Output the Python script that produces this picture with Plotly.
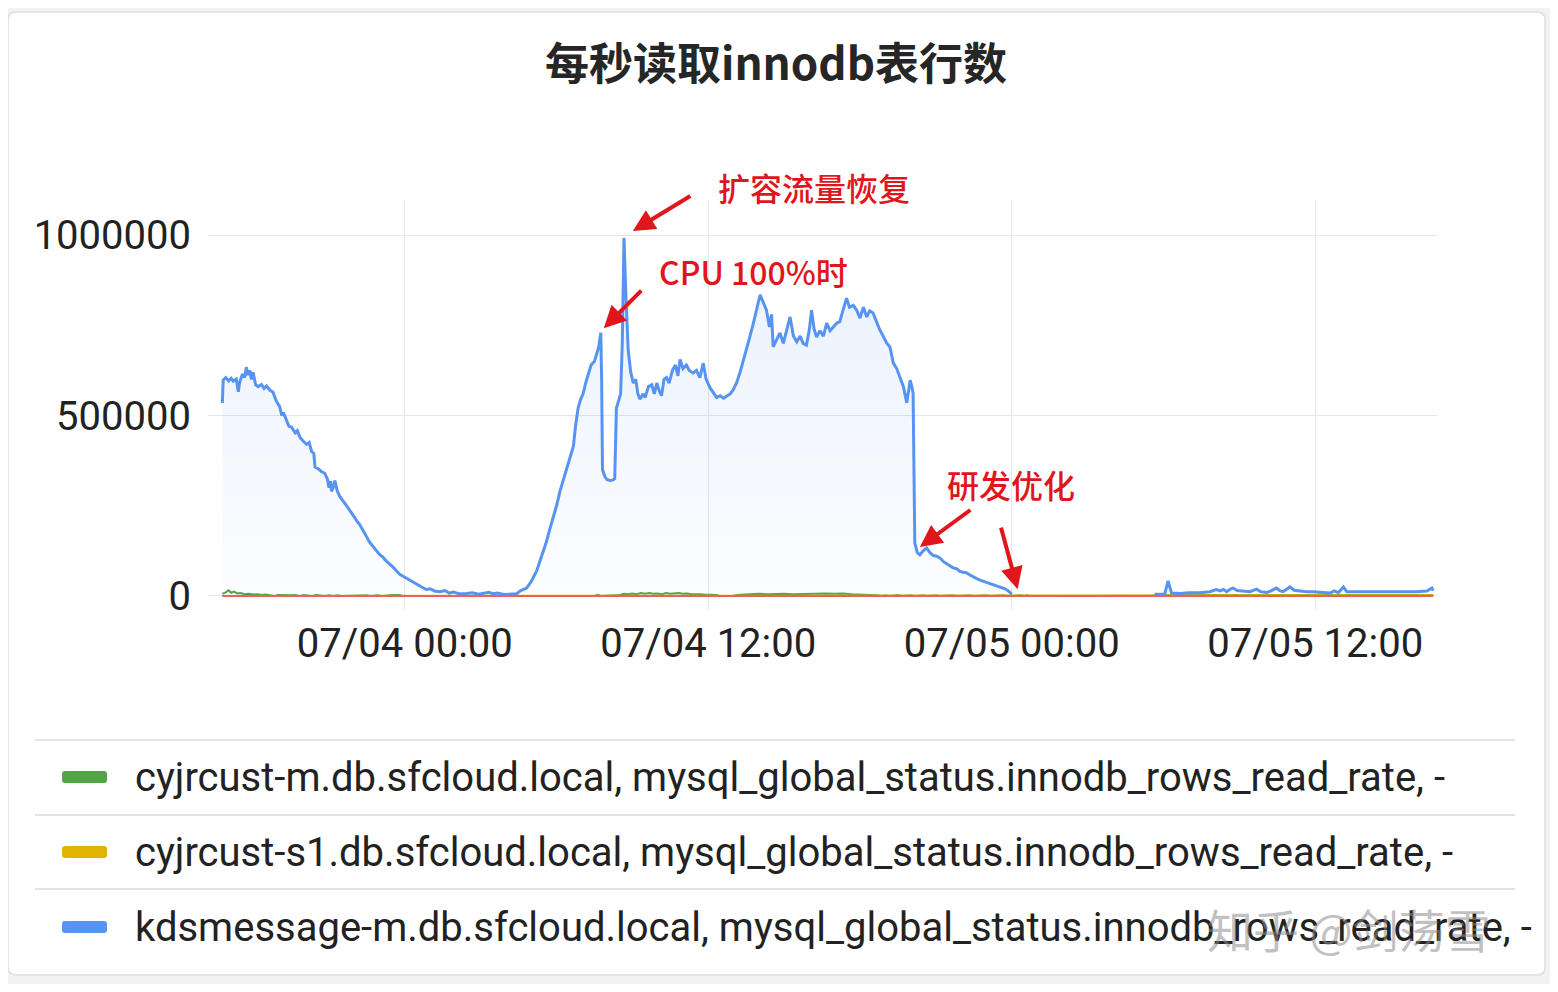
import plotly.graph_objects as go

YEAR = "2020"

# ---------------- data ----------------
blue_times = [
    "07-03 16:47", "07-03 16:49", "07-03 16:55", "07-03 17:02", "07-03 17:08", "07-03 17:13", "07-03 17:20",
    "07-03 17:25", "07-03 17:28", "07-03 17:35", "07-03 17:40", "07-03 17:44", "07-03 17:48", "07-03 17:52",
    "07-03 17:56", "07-03 18:00", "07-03 18:06", "07-03 18:12", "07-03 18:20", "07-03 18:26", "07-03 18:32",
    "07-03 18:40", "07-03 18:47", "07-03 18:55", "07-03 19:03", "07-03 19:08", "07-03 19:12", "07-03 19:19",
    "07-03 19:25", "07-03 19:31", "07-03 19:40", "07-03 19:45", "07-03 19:51", "07-03 19:58", "07-03 20:07",
    "07-03 20:13", "07-03 20:19", "07-03 20:24", "07-03 20:27", "07-03 20:35", "07-03 20:42", "07-03 20:50",
    "07-03 20:56", "07-03 21:00", "07-03 21:04", "07-03 21:06", "07-03 21:10", "07-03 21:14", "07-03 21:20",
    "07-03 21:26", "07-03 21:35", "07-03 21:42", "07-03 21:49", "07-03 21:56", "07-03 22:02", "07-03 22:08",
    "07-03 22:13", "07-03 22:20", "07-03 22:29", "07-03 22:36", "07-03 22:45", "07-03 22:53", "07-03 23:00",
    "07-03 23:08", "07-03 23:15", "07-03 23:25", "07-03 23:32", "07-03 23:40", "07-03 23:48",
    "07-04 00:00", "07-04 00:10", "07-04 00:20", "07-04 00:30", "07-04 00:40", "07-04 00:51", "07-04 01:00",
    "07-04 01:10", "07-04 01:23", "07-04 01:35", "07-04 01:45", "07-04 01:55", "07-04 02:10", "07-04 02:26",
    "07-04 02:40", "07-04 02:55", "07-04 03:10", "07-04 03:20", "07-04 03:29", "07-04 03:40", "07-04 03:55",
    "07-04 04:10", "07-04 04:25", "07-04 04:35", "07-04 04:49", "07-04 05:00", "07-04 05:13", "07-04 05:20",
    "07-04 05:28", "07-04 05:36", "07-04 05:44", "07-04 05:52", "07-04 06:00", "07-04 06:08", "07-04 06:16",
    "07-04 06:24", "07-04 06:32", "07-04 06:40", "07-04 06:45", "07-04 06:51", "07-04 06:57", "07-04 07:03",
    "07-04 07:09", "07-04 07:15", "07-04 07:22", "07-04 07:30", "07-04 07:35", "07-04 07:40", "07-04 07:45",
    "07-04 07:47", "07-04 07:49", "07-04 07:55", "07-04 08:00", "07-04 08:07", "07-04 08:13", "07-04 08:18",
    "07-04 08:22", "07-04 08:28", "07-04 08:32", "07-04 08:36", "07-04 08:40", "07-04 08:44", "07-04 08:50",
    "07-04 08:56", "07-04 09:02", "07-04 09:08", "07-04 09:13", "07-04 09:18", "07-04 09:25", "07-04 09:30",
    "07-04 09:38", "07-04 09:46", "07-04 09:52", "07-04 09:58", "07-04 10:03", "07-04 10:09", "07-04 10:15",
    "07-04 10:21", "07-04 10:27", "07-04 10:35", "07-04 10:42", "07-04 10:48", "07-04 10:53", "07-04 11:00",
    "07-04 11:08", "07-04 11:15", "07-04 11:24", "07-04 11:32", "07-04 11:40", "07-04 11:48", "07-04 11:55",
    "07-04 12:05", "07-04 12:12", "07-04 12:20", "07-04 12:28", "07-04 12:36", "07-04 12:45", "07-04 12:52",
    "07-04 12:59", "07-04 13:07", "07-04 13:15", "07-04 13:23", "07-04 13:31", "07-04 13:39", "07-04 13:47",
    "07-04 13:55", "07-04 14:03", "07-04 14:10", "07-04 14:18", "07-04 14:25", "07-04 14:30", "07-04 14:34",
    "07-04 14:42", "07-04 14:50", "07-04 14:58", "07-04 15:06", "07-04 15:14", "07-04 15:22", "07-04 15:30",
    "07-04 15:38", "07-04 15:45", "07-04 15:53", "07-04 16:00", "07-04 16:05", "07-04 16:11", "07-04 16:17",
    "07-04 16:25", "07-04 16:33", "07-04 16:41", "07-04 16:49", "07-04 16:57", "07-04 17:05", "07-04 17:12",
    "07-04 17:20", "07-04 17:28", "07-04 17:35", "07-04 17:44", "07-04 17:52", "07-04 18:00", "07-04 18:08",
    "07-04 18:16", "07-04 18:23", "07-04 18:31", "07-04 18:39", "07-04 18:47", "07-04 18:55", "07-04 19:03",
    "07-04 19:11", "07-04 19:19", "07-04 19:27", "07-04 19:35", "07-04 19:43", "07-04 19:51", "07-04 19:55",
    "07-04 19:59", "07-04 20:03", "07-04 20:06", "07-04 20:08", "07-04 20:10", "07-04 20:16", "07-04 20:22",
    "07-04 20:30", "07-04 20:38", "07-04 20:46", "07-04 20:54", "07-04 21:02", "07-04 21:10", "07-04 21:18",
    "07-04 21:25", "07-04 21:33", "07-04 21:41", "07-04 21:50", "07-04 21:57", "07-04 22:05", "07-04 22:13",
    "07-04 22:21", "07-04 22:29", "07-04 22:37", "07-04 22:45", "07-04 22:55", "07-04 23:05", "07-04 23:14",
    "07-04 23:24", "07-04 23:34", "07-04 23:44", "07-04 23:52", "07-05 00:00",
    "07-05 02:00",
    "07-05 05:39", "07-05 06:03", "07-05 06:11", "07-05 06:19", "07-05 06:40", "07-05 07:00", "07-05 07:26",
    "07-05 07:50", "07-05 08:05", "07-05 08:15", "07-05 08:22", "07-05 08:30", "07-05 08:40", "07-05 08:45",
    "07-05 08:55", "07-05 09:09", "07-05 09:25", "07-05 09:41", "07-05 09:50", "07-05 10:05", "07-05 10:15",
    "07-05 10:28", "07-05 10:36", "07-05 10:44", "07-05 10:52", "07-05 11:00", "07-05 11:10", "07-05 11:24",
    "07-05 11:40", "07-05 11:55", "07-05 12:10", "07-05 12:35", "07-05 12:45", "07-05 12:55", "07-05 13:07",
    "07-05 13:15", "07-05 13:22", "07-05 14:00", "07-05 14:30", "07-05 15:05", "07-05 15:30", "07-05 16:00",
    "07-05 16:25", "07-05 16:37", "07-05 16:40",
]
blue_k = [
    535, 598, 605, 596, 603, 595, 601,
    566, 592, 615, 605, 634, 612, 625,
    600, 620, 585, 580, 586, 575, 582,
    570, 565, 540, 525, 500, 508, 485,
    470, 468, 452, 458, 440, 430, 420,
    425, 400, 395, 357, 352, 345, 340,
    325, 300, 318, 290, 300, 320, 290,
    275, 262, 250, 238, 225, 215, 205,
    198, 185, 165, 150, 135, 125, 115,
    108, 98, 88, 80, 70, 60,
    52, 45, 38, 30, 25, 18, 20,
    14, 12, 15, 8, 11, 6, 7,
    9, 5, 7, 10, 6, 8, 4,
    6, 6, 15, 22, 40, 70, 95,
    120, 150, 185, 215, 250, 290, 320,
    355, 385, 415, 470, 520, 545, 560,
    590, 615, 640, 650, 670, 690, 729,
    600, 350, 330, 322, 320, 321, 325,
    520, 545, 560, 700, 992, 850, 680,
    620, 590, 600, 560, 545, 560, 550,
    580, 585, 560, 590, 570, 555, 600,
    605, 590, 625, 640, 610, 655, 630,
    640, 625, 618, 625, 605, 645, 600,
    575, 562, 550, 555, 548, 555, 560,
    571, 590, 618, 650, 681, 720, 756,
    800, 834, 815, 792, 745, 780, 690,
    710, 729, 700, 740, 773, 720, 704,
    720, 700, 695, 740, 792, 740, 717,
    735, 720, 756, 735, 745, 756, 760,
    790, 825, 800, 805, 792, 770, 800,
    773, 790, 784, 760, 737, 720, 701,
    690, 645, 630, 607, 580, 535, 570,
    598, 580, 562, 350, 147, 120, 114,
    125, 133, 120, 112, 110, 105, 95,
    90, 82, 78, 75, 68, 66, 64,
    58, 52, 48, 44, 40, 36, 32,
    30, 26, 20, 14, 5,
    None,
    5, 5, 42, 8, 7, 9, 9,
    12, 18, 14, 18, 12, 20, 22,
    15, 14, 12, 19, 12, 10, 14,
    22, 15, 12, 18, 25, 16, 14,
    12, 12, 10, 8, 14, 9, 25,
    12, 12, 12, 11, 12, 10, 12,
    14, 22, 15,
]

green_times = [
    "07-03 16:47", "07-03 16:55", "07-03 17:02", "07-03 17:08", "07-03 17:15", "07-03 17:22", "07-03 17:30",
    "07-03 17:40", "07-03 17:50", "07-03 18:00", "07-03 18:10", "07-03 18:20", "07-03 18:30", "07-03 18:40",
    "07-03 18:50", "07-03 19:00", "07-03 19:10", "07-03 19:20", "07-03 19:30", "07-03 19:40", "07-03 19:50",
    "07-03 20:00", "07-03 20:10", "07-03 20:20", "07-03 20:30", "07-03 20:40", "07-03 20:50", "07-03 21:00",
    "07-03 21:10", "07-03 21:20", "07-03 21:30", "07-03 22:30", "07-03 22:40", "07-03 22:55", "07-03 23:05",
    "07-03 23:30", "07-03 23:40", "07-03 23:48", "07-03 23:55", "07-04 07:30", "07-04 07:38", "07-04 07:45",
    "07-04 08:30", "07-04 08:40", "07-04 08:50", "07-04 09:00", "07-04 09:10", "07-04 09:20", "07-04 09:30",
    "07-04 09:40", "07-04 09:50", "07-04 10:00", "07-04 10:10", "07-04 10:20", "07-04 10:30", "07-04 10:40",
    "07-04 10:50", "07-04 11:00", "07-04 11:10", "07-04 11:20", "07-04 11:30", "07-04 11:40", "07-04 11:50",
    "07-04 12:00", "07-04 12:10", "07-04 12:20", "07-04 12:27", "07-04 12:58", "07-04 13:08", "07-04 13:20",
    "07-04 13:40", "07-04 14:00", "07-04 14:20", "07-04 14:40", "07-04 15:00", "07-04 15:20", "07-04 15:40",
    "07-04 16:00", "07-04 16:20", "07-04 16:40", "07-04 17:00", "07-04 17:20", "07-04 17:40", "07-04 18:00",
    "07-04 18:20", "07-04 18:30", "07-04 18:40", "07-04 18:50", "07-04 19:00", "07-04 19:10", "07-04 19:20",
    "07-04 19:30", "07-04 19:40", "07-04 20:00", "07-04 20:10", "07-04 20:30", "07-04 20:40", "07-04 21:00",
    "07-04 21:10", "07-04 21:40", "07-04 21:50", "07-04 22:20", "07-04 22:30", "07-04 23:00", "07-04 23:10",
    "07-04 23:40", "07-04 23:50", "07-05 00:20", "07-05 00:30", "07-05 00:36", "07-05 00:42", "07-05 05:35",
    "07-05 05:40", "07-05 07:00", "07-05 08:30", "07-05 10:00", "07-05 11:30", "07-05 13:00", "07-05 14:30",
    "07-05 16:00", "07-05 16:40",
]
green_k = [
    6, 10, 16, 9, 12, 7, 8,
    5, 6, 4, 5, 3, 4, 2,
    0, 3, 2, 3, 2, 3, 0,
    3, 2, 0, 3, 2, 0, 2,
    0, 2, 0, 2, 0, 2, 0,
    3, 4, 3, 0, 0, 3, 0,
    3, 6, 5, 7, 5, 8, 6,
    8, 6, 7, 5, 8, 6, 7,
    8, 6, 7, 5, 6, 5, 4,
    3, 2, 3, 0, 0, 3, 4,
    5, 6, 5, 6, 6, 5, 6,
    5, 6, 7, 6, 7, 5, 4,
    5, 3, 2, 0, 2, 0, 2,
    3, 0, 2, 0, 2, 0, 2,
    0, 2, 0, 2, 0, 2, 0,
    2, 0, 2, 0, 2, 0, 0,
    3, 3, 3, 3, 3, 3, 3,
    3, 3,
]

yellow_times = ["07-03 16:47", "07-05 05:35", "07-05 05:40", "07-05 16:40"]
yellow_k = [0, 0, 2, 2]

red_times = ["07-03 16:47", "07-05 16:40"]
red_k = [0, 0]

series_names = [
    "cyjrcust-m.db.sfcloud.local, mysql_global_status.innodb_rows_read_rate, -",
    "cyjrcust-s1.db.sfcloud.local, mysql_global_status.innodb_rows_read_rate, -",
    "kdsmessage-m.db.sfcloud.local, mysql_global_status.innodb_rows_read_rate, -",
]
series_colors = ["#52a447", "#e0b400", "#5794f2"]
red_color = "#f0605a"

y_tickvals = [0, 500000, 1000000]
x_range = ["07-03 16:13", "07-05 16:49"]
y_range = [-38800, 1097000]

title_text = "每秒读取innodb表行数"
notes = [
    # text, left px, centre px (reference picture coordinates)
    ("扩容流量恢复", 716, 187),
    ("CPU 100%时", 657, 271),
    ("研发优化", 945, 484),
]
arrows = [
    # head time, head value, tail offset px (dx, dy)
    ("07-04 09:01", 1011000, 59, -36),
    ("07-04 07:52", 742000, 39, -39),
    ("07-04 20:22", 136000, 52, -38),
    ("07-05 00:14", 19000, -17, -63),
]
watermark = "知乎 @剑荡雪"


def full(s):
    return f"{YEAR}-{s}"


def k(vals):
    return [None if v is None else v * 1000 for v in vals]


# ---------------- layout geometry ----------------
# the page body has an 8px margin; reference pixel coords are shifted by OFF
OFF = 8
W, H = 1558 - 2 * OFF, 992 - 2 * OFF
PL, PR, PT, PB = 208, 1437, 200, 610   # plot area in reference pixels


def px(x):
    return (x - PL) / (PR - PL)


def py(y):
    return (PB - y) / (PB - PT)


def rounded_rect(x0, y0, x1, y1, r):
    rx = r / (PR - PL)
    ry = r / (PB - PT)
    X0, X1 = px(x0), px(x1)
    Y0, Y1 = py(y1), py(y0)
    return (f"M{X0+rx},{Y0} L{X1-rx},{Y0} Q{X1},{Y0} {X1},{Y0+ry} "
            f"L{X1},{Y1-ry} Q{X1},{Y1} {X1-rx},{Y1} L{X0+rx},{Y1} "
            f"Q{X0},{Y1} {X0},{Y1-ry} L{X0},{Y0+ry} Q{X0},{Y0} {X0+rx},{Y0} Z")


fig = go.Figure()

fig.add_trace(go.Scatter(
    x=[full(t) for t in green_times], y=k(green_k), mode="lines",
    line=dict(color=series_colors[0], width=2), name=series_names[0], showlegend=False,
))
fig.add_trace(go.Scatter(
    x=[full(t) for t in yellow_times], y=k(yellow_k), mode="lines",
    line=dict(color=series_colors[1], width=2), name=series_names[1], showlegend=False,
))
fig.add_trace(go.Scatter(
    x=[full(t) for t in blue_times], y=k(blue_k), mode="lines",
    line=dict(color=series_colors[2], width=3), name=series_names[2], showlegend=False,
    fill="tozeroy", connectgaps=False,
    fillgradient=dict(type="vertical", colorscale=[[0, "rgba(87,148,242,0.02)"], [1, "rgba(87,148,242,0.13)"]]),
))
fig.add_trace(go.Scatter(
    x=[full(t) for t in red_times], y=k(red_k), mode="lines",
    line=dict(color=red_color, width=2), showlegend=False, name="",
))

shapes = []
shapes.append(dict(type="path", xref="paper", yref="paper", layer="below",
                   path=rounded_rect(8, 12, 1545, 975, 8),
                   fillcolor="#ffffff", line=dict(color="#dedede", width=1.5)))
for ysep in [740, 815, 889]:
    shapes.append(dict(type="line", xref="paper", yref="paper", x0=px(35), x1=px(1515), y0=py(ysep), y1=py(ysep),
                       line=dict(color="#e3e3e3", width=2)))

annotations = []
row_y = [777, 852, 927]
for name, color, ry in zip(series_names, series_colors, row_y):
    shapes.append(dict(type="path", xref="paper", yref="paper",
                       path=rounded_rect(62, ry - 6, 107, ry + 6, 3),
                       fillcolor=color, line=dict(width=0)))
    annotations.append(dict(text=name, xref="paper", yref="paper", x=px(133), y=py(ry),
                            xanchor="left", yanchor="middle", showarrow=False,
                            font=dict(family="Roboto", size=40, color="#222222")))

for text, lx, cy in notes:
    annotations.append(dict(text=text, xref="paper", yref="paper", x=px(lx), y=py(cy),
                            xanchor="left", yanchor="middle", showarrow=False,
                            font=dict(family="Noto Sans CJK SC", size=32, color="#e0161c", weight=500)))
for t, v, dx, dy in arrows:
    annotations.append(dict(text="", x=full(t), y=v, xref="x", yref="y", ax=dx, ay=dy, showarrow=True,
                            arrowhead=2, arrowsize=1.1, arrowwidth=4, arrowcolor="#e0161c", standoff=0))

annotations.append(dict(text=watermark, xref="paper", yref="paper", x=px(1349), y=py(928),
                        xanchor="center", yanchor="middle", showarrow=False,
                        font=dict(family="Noto Sans CJK SC", size=46, color="rgba(140,140,140,0.55)")))

fig.update_layout(
    width=W, height=H,
    margin=dict(l=PL - OFF, r=W - (PR - OFF), t=PT - OFF, b=H - (PB - OFF), pad=0),
    paper_bgcolor="#f2f2f2",
    plot_bgcolor="rgba(0,0,0,0)",
    title=dict(text=title_text, x=(776 - OFF) / W, xref="container", xanchor="center",
               y=1 - (65 - OFF) / H, yref="container", yanchor="middle",
               font=dict(family="Noto Sans CJK SC", size=44, color="#262626", weight="bold")),
    shapes=shapes,
    annotations=annotations,
    showlegend=False,
)
fig.update_xaxes(
    type="date", range=[full(x_range[0]), full(x_range[1])],
    tick0=full("07-04 00:00"), dtick=12 * 3600 * 1000, tickformat="%m/%d %H:%M",
    showgrid=True, gridcolor="#e6e6e6", gridwidth=1, zeroline=False, showline=False,
    ticks="", ticklabelstandoff=6,
    tickfont=dict(family="Roboto", size=40, color="#222222"),
)
fig.update_yaxes(
    range=y_range, tickvals=y_tickvals, ticktext=[str(v) for v in y_tickvals],
    showgrid=True, gridcolor="#e6e6e6", gridwidth=1, zeroline=False, showline=False,
    ticks="outside", ticklen=8, tickcolor="rgba(0,0,0,0)",
    tickfont=dict(family="Roboto", size=40, color="#222222"),
)

fig.write_html("out.html")
